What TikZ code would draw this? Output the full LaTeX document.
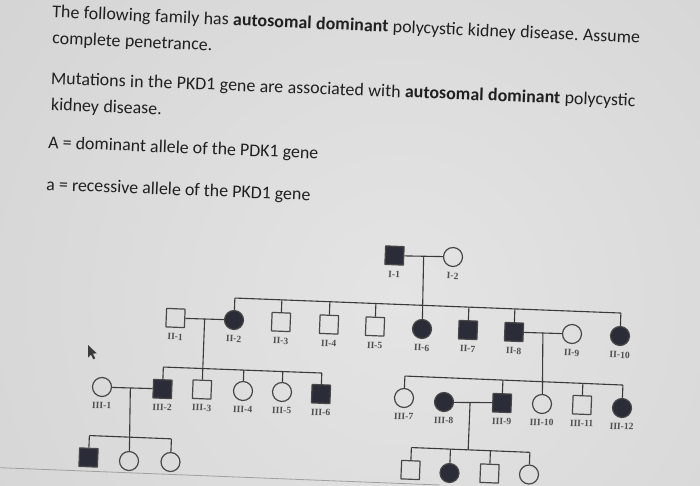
\documentclass[tikz,border=0pt]{standalone}
\usepackage{fontspec}
\setmainfont{Carlito}
\newfontfamily\pedfont{Liberation Serif}
\usetikzlibrary{calc}
\definecolor{bgin}{HTML}{E4E4E4}
\definecolor{bgout}{HTML}{C2C2C2}
\definecolor{txt}{HTML}{202020}
\definecolor{pline}{HTML}{3A3A3A}
\definecolor{pborder}{HTML}{484848}
\definecolor{affill}{HTML}{2A2C38}
\definecolor{lblc}{HTML}{505050}
\definecolor{edgec}{HTML}{A0A0A0}
\pgfdeclareradialshading{bgshade}{\pgfpoint{0bp}{0bp}}{color(0bp)=(bgin); color(50bp)=(bgout)}
\newcommand\wsp{\kern\fontdimen2\font}
\tikzset{
  txtline/.style={anchor=base west, inner sep=0, text=txt, font=\fontsize{17.9}{21}\selectfont},
  ra/.style={txtline, rotate=-2.5},
  rb/.style={txtline, rotate=-2.2},
  rc/.style={txtline, rotate=-2.3},
  ped/.style={draw=pborder, line width=1.2pt, inner sep=0, rotate=-2.3},
  sq/.style={ped, rectangle, minimum size=18.5pt},
  ci/.style={ped, circle, minimum size=19pt},
  aff/.style={fill=affill},
  lbl/.style={anchor=base, inner sep=0, text=lblc, font=\pedfont\bfseries\fontsize{9.6}{10}\selectfont, rotate=-2.3},
  conn/.style={draw=pline, line width=1.1pt}
}
\begin{document}
\begin{tikzpicture}[x=1pt, y=-1pt, line join=round]
\useasboundingbox (0,0) rectangle (700,485);
\shade[shading=bgshade] (-150,-250) rectangle (950,850);

% text, line 1
\node[ra] (t1a) at (52,17.5) {The};
\node[ra] (t1a2) at (t1a.base east) {\wsp following};
\node[ra] (t1b) at (t1a2.base east) {\wsp family};
\node[ra] (t1b2) at (t1b.base east) {\wsp has};
\node[ra] (t1c) at (t1b2.base east) {\wsp\textbf{autosomal}};
\node[ra] (t1d) at (t1c.base east) {\wsp\textbf{dominant}};
\node[ra] (t1e) at (t1d.base east) {\wsp polycystic};
\node[ra] (t1f) at (t1e.base east) {\wsp kidney};
\node[ra] (t1g) at (t1f.base east) {\wsp disease.};
\node[ra] (t1h) at (t1g.base east) {\wsp Assume};
% line 2
\node[ra] (t2a) at (52,43.8) {complete};
\node[ra] (t2b) at (t2a.base east) {\wsp penetrance.};
% line 3
\node[rb] (t3a) at (50.7,84) {Mutations};
\node[rb] (t3a2) at (t3a.base east) {\wsp in};
\node[rb] (t3b) at (t3a2.base east) {\wsp the};
\node[rb] (t3b2) at (t3b.base east) {\wsp PKD1};
\node[rb] (t3c) at (t3b2.base east) {\wsp gene};
\node[rb] (t3c2) at (t3c.base east) {\wsp are};
\node[rb] (t3d) at (t3c2.base east) {\wsp associated};
\node[rb] (t3e) at (t3d.base east) {\wsp with};
\node[rb] (t3f) at (t3e.base east) {\wsp\textbf{autosomal}};
\node[rb] (t3g) at (t3f.base east) {\wsp\textbf{dominant}};
\node[rb] (t3h) at (t3g.base east) {\wsp polycystic};
% line 4
\node[rb] (t4a) at (50.7,110.5) {kidney};
\node[rb] (t4b) at (t4a.base east) {\wsp disease.};
% lines 5 and 6
\node[rc] (t5) at (48,148) {A = dominant allele of the PDK1 gene};
\node[rc] (t6) at (46,190) {a = recessive allele of the PKD1 gene};

% generation I
\node[sq,aff] (I1) at (394.5,255.5) {};
\node[ci] (I2) at (453,257) {};
% generation II
\node[sq] (II1) at (175.5,318) {};
\node[ci,aff] (II2) at (234,320) {};
\node[sq] (II3) at (281,322) {};
\node[sq] (II4) at (329,324.5) {};
\node[sq] (II5) at (375,326.5) {};
\node[ci,aff] (II6) at (422,329) {};
\node[sq,aff] (II7) at (468,330) {};
\node[sq,aff] (II8) at (514,332) {};
\node[ci] (II9) at (572,334) {};
\node[ci,aff] (II10) at (620,336) {};
% generation III
\node[ci] (III1) at (102,387) {};
\node[sq,aff] (III2) at (162.5,389) {};
\node[sq] (III3) at (202,389.5) {};
\node[ci] (III4) at (243,391) {};
\node[ci] (III5) at (282,392) {};
\node[sq,aff] (III6) at (321,394) {};
\node[ci] (III7) at (404,398) {};
\node[ci,aff] (III8) at (444,402) {};
\node[sq,aff] (III9) at (502,403) {};
\node[ci] (III10) at (542,404) {};
\node[sq] (III11) at (582,405) {};
\node[ci,aff] (III12) at (622,408) {};
% generation IV
\node[sq,aff] (IV1) at (88.5,457.5) {};
\node[ci] (IV2) at (129,461) {};
\node[ci] (IV3) at (170.5,462) {};
\node[sq] (IV4) at (410.5,470) {};
\node[ci,aff] (IV5) at (449.5,473) {};
\node[sq] (IV6) at (489.5,473.5) {};
\node[ci] (IV7) at (529,474.5) {};

% labels
\foreach \n/\t in {I1/I-1, I2/I-2, II1/II-1, II2/II-2, II3/II-3, II4/II-4, II5/II-5, II6/II-6, II7/II-7, II8/II-8, II9/II-9, II10/II-10}
  \node[lbl] (lab\n) at ($(\n)+(-0.5,22)$) {\t};
\foreach \n/\t in {III1/III-1, III2/III-2, III3/III-3, III4/III-4, III5/III-5, III6/III-6, III7/III-7, III8/III-8, III9/III-9, III10/III-10, III11/III-11, III12/III-12}
  \node[lbl] (lab\n) at ($(\n)+(-0.5,21.5)$) {\t};

% matings and descent
\draw[conn] (I1.east) -- coordinate (mI) (I2.west);
\draw[conn] (mI) -- (II6.north);
\coordinate (sIIa) at (234,298);
\coordinate (sIIb) at (620,313);
\draw[conn] ($(sIIa)!(II2.north)!(sIIb)$) -- ($(sIIa)!(II10.north)!(sIIb)$);
\foreach \c in {II2,II3,II4,II5,II7,II8,II10}
  \draw[conn] (\c.north) -- ($(sIIa)!(\c.north)!(sIIb)$);

\draw[conn] (II1.east) -- coordinate (mII12) (II2.west);
\draw[conn] (mII12) -- (III3.north);
\coordinate (sIIIa) at (162.5,367);
\coordinate (sIIIb) at (321,373);
\draw[conn] ($(sIIIa)!(III2.north)!(sIIIb)$) -- ($(sIIIa)!(III6.north)!(sIIIb)$);
\foreach \c in {III2,III4,III5,III6}
  \draw[conn] (\c.north) -- ($(sIIIa)!(\c.north)!(sIIIb)$);

\draw[conn] (II8.east) -- coordinate (mII89) (II9.west);
\draw[conn] (mII89) -- (III10.north);
\coordinate (sIIIc) at (404,376);
\coordinate (sIIId) at (622,385);
\draw[conn] ($(sIIIc)!(III7.north)!(sIIId)$) -- ($(sIIIc)!(III12.north)!(sIIId)$);
\foreach \c in {III7,III9,III11,III12}
  \draw[conn] (\c.north) -- ($(sIIIc)!(\c.north)!(sIIId)$);

\draw[conn] (III1.east) -- coordinate[pos=0.45] (mIII12) (III2.west);
\draw[conn] (mIII12) -- (IV2.north);
\coordinate (sIVa) at (88.5,435.5);
\coordinate (sIVb) at (170.5,438.8);
\draw[conn] ($(sIVa)!(IV1.north)!(sIVb)$) -- ($(sIVa)!(IV3.north)!(sIVb)$);
\foreach \c in {IV1,IV3}
  \draw[conn] (\c.north) -- ($(sIVa)!(\c.north)!(sIVb)$);

\draw[conn] (III8.east) -- coordinate[pos=0.42] (mIII89) (III9.west);
\coordinate (sIVc) at (410.5,447.5);
\coordinate (sIVd) at (529,452.3);
\draw[conn] (mIII89) -- ($(sIVc)!(mIII89)!(sIVd)$);
\draw[conn] ($(sIVc)!(IV4.north)!(sIVd)$) -- ($(sIVc)!(IV7.north)!(sIVd)$);
\foreach \c in {IV4,IV5,IV6,IV7}
  \draw[conn] (\c.north) -- ($(sIVc)!(\c.north)!(sIVd)$);

% mouse pointer
\fill[pline] (88,345) -- (88,357.5) -- (91,354.5) -- (93.3,359.3) -- (95.2,358.4) -- (92.9,353.6) -- (96.8,353.4) -- cycle;
% screen edge
\draw[edgec, line width=0.8pt] (0,467.7) -- (440,485);
\end{tikzpicture}
\end{document}
